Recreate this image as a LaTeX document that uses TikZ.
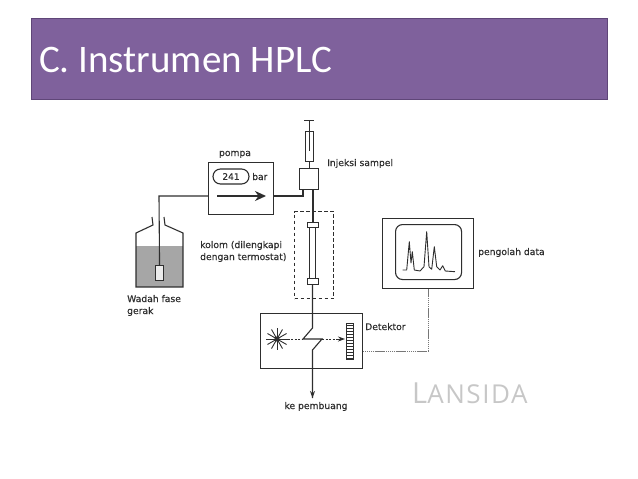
\documentclass[tikz,border=0pt]{standalone}
\usepackage{fontspec}
\setmainfont{DejaVu Sans}
\newfontfamily\titlefont{Carlito}
\newfontfamily\markfont[LetterSpace=6]{Open Sans}
\newfontfamily\lblfont[FakeBold=0.6]{DejaVu Sans}
\usetikzlibrary{arrows.meta,patterns}
\definecolor{banner}{HTML}{7F619C}
\definecolor{bannerline}{HTML}{5F4678}
\definecolor{ink}{HTML}{2E2E2E}
\definecolor{liquid}{HTML}{A6A6A6}
\tikzset{
  part/.style={draw=ink,line width=1.1pt,fill=white,inner sep=0pt,anchor=north west},
  tube/.style={draw=ink,line width=1.1pt},
  label/.style={font=\lblfont\fontsize{9.2}{11}\selectfont,text=ink,inner sep=0pt,anchor=base west},
  beam/.style={draw=ink,line width=0.9pt,dash pattern=on 2.2pt off 1.3pt},
  signal/.style={draw=ink!65,line width=1pt,dash pattern=on 1.5pt off 0.6pt},
}
\begin{document}
\begin{tikzpicture}[x=1pt,y=-1pt]
\useasboundingbox (0,0) rectangle (638,479);
% banner
\node[draw=bannerline,fill=banner,line width=0.8pt,inner sep=0,anchor=north west,minimum width=576pt,minimum height=81pt] (banner) at (31,18) {};
\node[font=\titlefont\fontsize{39}{44}\selectfont,text=white,inner sep=0,anchor=base west] (title) at (39,72) {C. Instrumen HPLC};
% reservoir
\fill[liquid] (136,246) rectangle (183,287);
\draw[tube] (152,217) -- (153,225) -- (136,233) -- (136,287) -- (183,287) -- (183,233) -- (165,225) -- (164,217);
% pump
\node[part,minimum width=65pt,minimum height=52pt] (pump) at (208,162) {};
\node[label,anchor=base] (pumplabel) at (235,156) {pompa};
\node[draw=ink,line width=1.1pt,rounded corners=7.5pt,minimum width=36pt,minimum height=15pt,inner sep=0,font=\lblfont\fontsize{9}{10}\selectfont,text=ink] (pill) at (231,176.5) {241};
\node[label] (bar) at (252,180) {bar};
\draw[ink,line width=2pt,-{Stealth[length=11pt,width=10pt]}] (217,196) -- (266,196);
% electrode
\node[part,minimum width=8pt,minimum height=15pt,fill=white!92!black] (filter) at (155,265) {};
% injector
\node[part,minimum width=19pt,minimum height=21pt] (inj) at (299,168) {};
\node[part,minimum width=8pt,minimum height=30pt] (syringe) at (305,131) {};
\coordinate (plunger) at (309,120);
\draw[tube,line width=0.9pt] (304,120) -- (314,120);
\draw[tube,line width=0.9pt] (plunger) -- (309,151);
\draw[tube] (syringe.south) -- (syringe.south |- inj.north);
% tubing
\coordinate (bend1) at (159,196);
\coordinate (bend2) at (303,196);
\draw[tube] (filter.north) -- (bend1) -- (pump.west |- bend1);
\draw[tube] (pump.east |- bend2) -- (bend2) -- (bend2 |- inj.south);
% column
\node[draw=ink,line width=1pt,dash pattern=on 3.5pt off 2.5pt,inner sep=0,anchor=north west,minimum width=39pt,minimum height=87pt] (oven) at (294,211) {};
\node[part,minimum width=6pt,minimum height=51pt,anchor=north,line width=0.9pt] (column) at (312.5,227) {};
\node[part,minimum width=11pt,minimum height=5pt] (captop) at (307,222) {};
\node[part,minimum width=11pt,minimum height=6pt] (capbot) at (307,278) {};
\coordinate (inout) at (313,189);
\draw[tube] (inout) -- (inout |- captop.north);
% detector
\node[part,minimum width=102pt,minimum height=55pt] (det) at (260,313) {};
\coordinate (z1) at (312.5,328);
\coordinate (z2) at (303,339);
\coordinate (z3) at (322,339);
\coordinate (z4) at (312.5,350);
\coordinate (waste) at (312.5,398);
\draw[tube] (capbot.south -| z1) -- (z1) -- (z2) -- (z3) -- (z4) -- (waste);
\draw[ink,line width=1.1pt,-{Stealth[length=7pt,width=5pt]}] (z4) -- (waste);
% lamp
\coordinate (lamp) at (277,339);
\foreach \a in {0,30,...,330}{\draw[ink,line width=0.9pt] (lamp) -- ++(\a:11);}
\fill[ink] (lamp) circle (2.6);
\draw[beam] (lamp) -- (z2);
\draw[beam] (z3) -- (336,339);
\draw[ink,line width=0.9pt,-{Stealth[length=7pt,width=5pt]}] (336,339) -- (345,339);
% grating
\node[draw=ink,line width=0.8pt,inner sep=0,anchor=north west,minimum width=7pt,minimum height=36pt,pattern=horizontal lines,pattern color=ink] (grating) at (346,323) {};
% monitor
\node[part,minimum width=91pt,minimum height=70pt] (monitor) at (382,218) {};
\node[draw=ink,line width=1.1pt,rounded corners=7pt,inner sep=0,anchor=north west,minimum width=66pt,minimum height=55pt] (screen) at (395,224) {};
\draw[ink,line width=0.9pt,line join=round] (402.7,270) -- (406.7,270) -- (409.3,241.7) -- (411,263) -- (412.3,251.7) -- (414.3,270) -- (420,271) -- (424,266.7) -- (426.7,231.7) -- (429,266.7) -- (431.7,269.3) -- (434.3,246.7) -- (436.7,266.7) -- (440,270) -- (442.7,265.7) -- (445.3,271) -- (455,271.7);
\coordinate (sigbend) at (428,351);
\draw[signal] (monitor.south -| sigbend) -- (sigbend) -- (det.east |- sigbend);
% labels
\node[label] (lblinj) at (327,166) {Injeksi sampel};
\node[label] (lblkol1) at (200,248) {kolom (dilengkapi};
\node[label] (lblkol2) at (200,260) {dengan termostat)};
\node[label] (lblwadah1) at (127,302) {Wadah fase};
\node[label] (lblwadah2) at (127,314) {gerak};
\node[label] (lbldata) at (478,255) {pengolah data};
\node[label] (lbldet) at (365,330) {Detektor};
\node[label,anchor=base] (lblwaste) at (316,409) {ke pembuang};
\node[inner sep=0,anchor=base west,text=black!22,font=\markfont] (mark) at (412,403) {\fontsize{29}{30}\selectfont L\fontsize{26}{30}\selectfont ANSIDA};
\end{tikzpicture}
\end{document}
